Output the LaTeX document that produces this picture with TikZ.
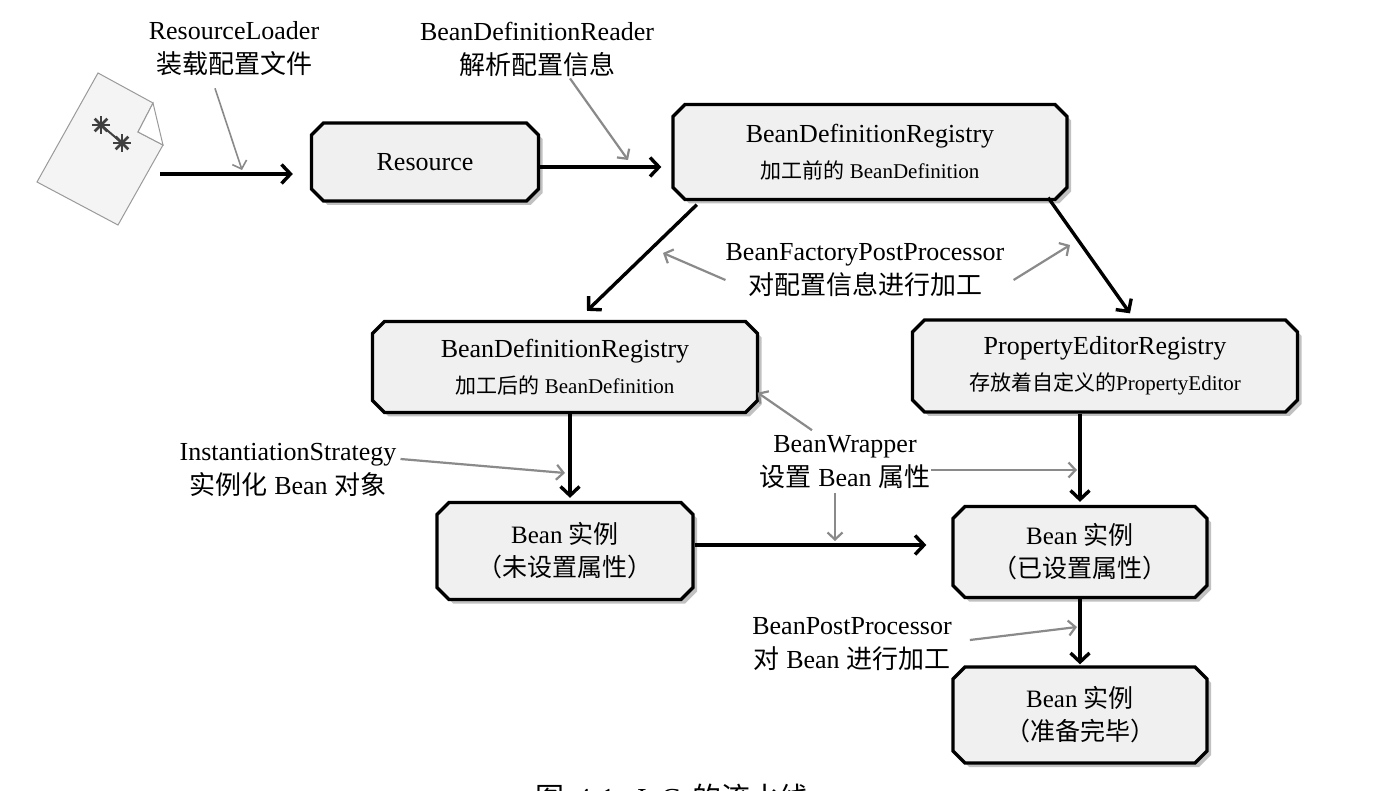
\documentclass[tikz,border=0pt]{standalone}
\usepackage{fontspec}
\setmainfont{Liberation Serif}
\newfontfamily\cjk{Noto Sans CJK SC}
\usetikzlibrary{shapes.misc,shadows,arrows.meta}
\definecolor{boxfill}{HTML}{F0F0F0}
\definecolor{arrgray}{HTML}{8A8A8A}
\definecolor{docgray}{HTML}{9A9A9A}
\newcommand\sml{\fontsize{21pt}{26pt}\selectfont}
\begin{document}
\begin{tikzpicture}[x=1pt,y=-1pt,
  box/.style={chamfered rectangle, chamfered rectangle xsep=6pt, chamfered rectangle ysep=6pt,
    draw=black, line width=3.3pt, fill=boxfill,
    drop shadow={shadow xshift=4pt,shadow yshift=-4pt,opacity=0.4,fill=black!60},
    align=center, inner sep=0pt, font=\fontsize{26pt}{36pt}\selectfont},
  beanbox/.style={box, font=\fontsize{25pt}{33pt}\selectfont},
  lbl/.style={align=center, inner sep=0pt, font=\fontsize{26pt}{34pt}\selectfont},
  blk/.style={line width=3.4pt, draw=black, -{Straight Barb[length=9pt,width=19pt]}},
  gry/.style={line width=2.2pt, draw=arrgray, -{Straight Barb[length=7pt,width=15pt]}},
  ast/.style={line width=2.6pt, draw=black!75}
]
\useasboundingbox (0,0) rectangle (1374,791);
\fill[white] (0,0) rectangle (1374,791);

% document icon
\filldraw[fill=gray!9, draw=docgray, line width=1pt]
  (98,73) -- (153,103) -- (138,132) -- (163,145) -- (118,225) -- (37,182) -- cycle;
\filldraw[fill=white, draw=docgray, line width=1pt] (153,103) -- (138,132) -- (163,145) -- cycle;
\draw[ast, line width=2pt] (101,125) -- (122,143);
\foreach \c in {(101,125),(122,143)}{
  \foreach \a in {0,45,90,135}{
    \draw[ast] \c ++(\a:9) -- ++(\a+180:18);
  }
}
\coordinate (docout) at (160,174);

% boxes
\node[box, minimum width=227pt, minimum height=78pt] (res) at (425,162) {Resource};
\node[box, minimum width=394pt, minimum height=95pt] (bdr1) at (870,152)
  {BeanDefinitionRegistry\\{\sml{\cjk 加工前的} BeanDefinition}};
\node[box, minimum width=385pt, minimum height=91pt] (bdr2) at (565,367)
  {BeanDefinitionRegistry\\{\sml{\cjk 加工后的} BeanDefinition}};
\node[box, minimum width=385pt, minimum height=92pt] (per) at (1105,366)
  {PropertyEditorRegistry\\{\sml{\cjk 存放着自定义的}PropertyEditor}};
\node[beanbox, minimum width=256pt, minimum height=97pt] (bean1) at (565,551)
  {Bean {\cjk 实例}\\{\cjk （未设置属性）}};
\node[beanbox, minimum width=254pt, minimum height=91pt] (bean2) at (1080,552)
  {Bean {\cjk 实例}\\{\cjk （已设置属性）}};
\node[beanbox, minimum width=254pt, minimum height=96pt] (bean3) at (1080,715)
  {Bean {\cjk 实例}\\{\cjk （准备完毕）}};

% labels
\node[lbl] (rl) at (234,49) {ResourceLoader\\{\cjk 装载配置文件}};
\node[lbl] (bdrr) at (537,49) {BeanDefinitionReader\\{\cjk 解析配置信息}};
\node[lbl] (bfpp) at (865,270) {BeanFactoryPostProcessor\\{\cjk 对配置信息进行加工}};
\node[lbl] (inst) at (288,470) {InstantiationStrategy\\{\cjk 实例化} Bean {\cjk 对象}};
\node[lbl] (bw) at (845,462) {BeanWrapper\\{\cjk 设置} Bean {\cjk 属性}};
\node[lbl] (bpp) at (852,644) {BeanPostProcessor\\{\cjk 对} Bean {\cjk 进行加工}};

% black connectors
\draw[blk] (docout) -- ([xshift=-17pt]res.west |- docout);
\draw[blk] ([yshift=-5pt]res.east) -- ([yshift=-5pt,xshift=-10pt]res.east -| bdr1.west);
\draw[blk] ([xshift=19pt,yshift=-10pt]bdr1.south west) -- ([xshift=22pt,yshift=9pt]bdr2.north);
\draw[blk] ([xshift=-14pt,yshift=-3pt]bdr1.south east) -- ([xshift=25pt,yshift=5pt]per.north);
\draw[blk] ([xshift=5pt]bdr2.south) -- ([xshift=5pt,yshift=3pt]bean1.north);
\draw[blk] (bean2.north |- per.south) -- ([yshift=3pt]bean2.north);
\draw[blk] ([yshift=6pt]bean1.east) -- ([yshift=6pt,xshift=-25pt]bean1.east -| bean2.west);
\draw[blk] (bean2.south) -- ([yshift=1pt]bean3.north);

% gray annotation arrows
\coordinate (g1e) at (242,170);
\coordinate (g2e) at (628,160);
\coordinate (g3e) at (663,253);
\coordinate (g4e) at (1070,245);
\coordinate (g6e) at (1077,470);
\coordinate (g7e) at (835,541);
\coordinate (g8e) at (565,473);
\coordinate (g9e) at (1077,627);
\draw[gry, line width=1.6pt] ([xshift=-19pt,yshift=-12pt]rl.south) -- (g1e);
\draw[gry] ([xshift=33pt,yshift=-2pt]bdrr.south) -- (g2e);
\draw[gry] ([yshift=-10pt]bfpp.west) -- (g3e);
\draw[gry] ([xshift=9pt,yshift=-10pt]bfpp.east) -- (g4e);
\draw[gry] ([xshift=-33pt,yshift=5pt]bw.north) -- ([xshift=5pt,yshift=15pt]bdr2.south east);
\draw[gry] ([xshift=1pt,yshift=-8pt]bw.east) -- (g6e);
\draw[gry] ([xshift=-10pt,yshift=-4pt]bw.south) -- (g7e);
\draw[gry] ([xshift=4pt,yshift=11pt]inst.east) -- (g8e);
\draw[gry] ([xshift=18pt,yshift=4pt]bpp.east) -- (g9e);

% caption (cut off at the bottom edge, as in the reference)
\node[anchor=base, inner sep=0pt, font=\fontsize{29pt}{29pt}\selectfont] (cap) at (672,808)
  {{\cjk 图}\hspace{12pt}4-1\hspace{22pt}IoC\hspace{12pt}{\cjk 的流水线}};
\end{tikzpicture}
\end{document}
